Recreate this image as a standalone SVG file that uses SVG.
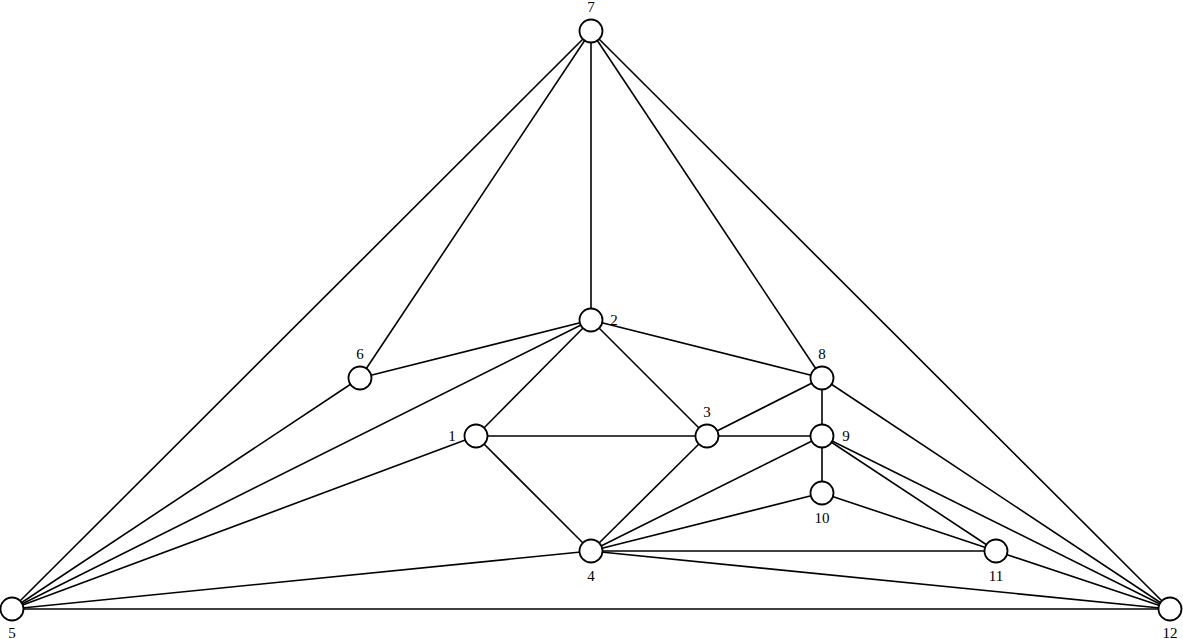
<svg xmlns="http://www.w3.org/2000/svg" width="1183" height="639" viewBox="0 0 1183 639">
<style>
.e{stroke:#000;stroke-width:1.6;fill:none}
.n{fill:#fff;stroke:#000;stroke-width:1.8}
.t{font-family:"Liberation Serif","DejaVu Serif",serif;font-size:15px;fill:#000;text-anchor:middle}
</style>
<rect width="1183" height="639" fill="#fff"/>
<g id="edges">
<line class="e" x1="591" y1="31" x2="12" y2="609"/>
<line class="e" x1="591" y1="31" x2="360" y2="378"/>
<line class="e" x1="591" y1="31" x2="591" y2="320"/>
<line class="e" x1="591" y1="31" x2="822" y2="378"/>
<line class="e" x1="591" y1="31" x2="1170" y2="609"/>
<line class="e" x1="591" y1="320" x2="360" y2="378"/>
<line class="e" x1="591" y1="320" x2="12" y2="609"/>
<line class="e" x1="591" y1="320" x2="476" y2="436"/>
<line class="e" x1="591" y1="320" x2="707" y2="436"/>
<line class="e" x1="591" y1="320" x2="822" y2="378"/>
<line class="e" x1="360" y1="378" x2="12" y2="609"/>
<line class="e" x1="476" y1="436" x2="12" y2="609"/>
<line class="e" x1="476" y1="436" x2="707" y2="436"/>
<line class="e" x1="476" y1="436" x2="591" y2="551"/>
<line class="e" x1="707" y1="436" x2="822" y2="378"/>
<line class="e" x1="707" y1="436" x2="822" y2="436"/>
<line class="e" x1="707" y1="436" x2="591" y2="551"/>
<line class="e" x1="822" y1="378" x2="822" y2="436"/>
<line class="e" x1="822" y1="378" x2="1170" y2="609"/>
<line class="e" x1="822" y1="436" x2="822" y2="493"/>
<line class="e" x1="822" y1="436" x2="591" y2="551"/>
<line class="e" x1="822" y1="436" x2="996" y2="551"/>
<line class="e" x1="822" y1="436" x2="1170" y2="609"/>
<line class="e" x1="822" y1="493" x2="591" y2="551"/>
<line class="e" x1="822" y1="493" x2="996" y2="551"/>
<line class="e" x1="591" y1="551" x2="12" y2="609"/>
<line class="e" x1="591" y1="551" x2="996" y2="551"/>
<line class="e" x1="591" y1="551" x2="1170" y2="609"/>
<line class="e" x1="996" y1="551" x2="1170" y2="609"/>
<line class="e" x1="12" y1="609" x2="1170" y2="609"/>
</g>
<g id="n7"><circle class="n" cx="591" cy="31" r="11.5"/><text class="t" x="591" y="12">7</text></g>
<g id="n2"><circle class="n" cx="591" cy="320" r="11.5"/><text class="t" x="614" y="325">2</text></g>
<g id="n6"><circle class="n" cx="360" cy="378" r="11.5"/><text class="t" x="360" y="359">6</text></g>
<g id="n8"><circle class="n" cx="822" cy="378" r="11.5"/><text class="t" x="822" y="359">8</text></g>
<g id="n1"><circle class="n" cx="476" cy="436" r="11.5"/><text class="t" x="452" y="441">1</text></g>
<g id="n3"><circle class="n" cx="707" cy="436" r="11.5"/><text class="t" x="707" y="417">3</text></g>
<g id="n9"><circle class="n" cx="822" cy="436" r="11.5"/><text class="t" x="846" y="441">9</text></g>
<g id="n10"><circle class="n" cx="822" cy="493" r="11.5"/><text class="t" x="822" y="523">10</text></g>
<g id="n4"><circle class="n" cx="591" cy="551" r="11.5"/><text class="t" x="591" y="581">4</text></g>
<g id="n11"><circle class="n" cx="996" cy="551" r="11.5"/><text class="t" x="996" y="581">11</text></g>
<g id="n5"><circle class="n" cx="12" cy="609" r="11.5"/><text class="t" x="12" y="638">5</text></g>
<g id="n12"><circle class="n" cx="1170" cy="609" r="11.5"/><text class="t" x="1170" y="638">12</text></g>
</svg>
